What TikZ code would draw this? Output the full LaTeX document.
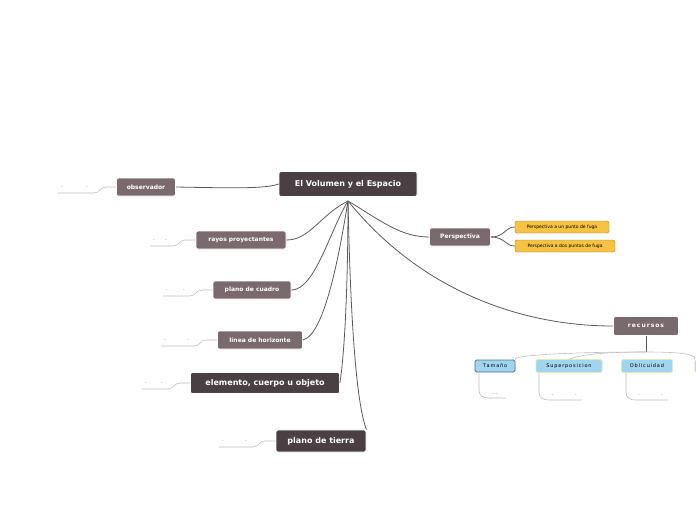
\documentclass[tikz,border=0pt]{standalone}
\usepackage{fontspec}
\setmainfont{DejaVu Sans}
\begin{document}
\begin{tikzpicture}[x=1pt,y=-1pt,
 base/.style={rounded corners=2pt,text=white,font=\bfseries,inner sep=0pt,drop shadow/.style={}},
 dk/.style={base,fill=black!70!red!30!gray,fill={rgb,255:red,74;green,63;blue,66},draw=white,line width=0.8pt,font=\bfseries\fontsize{8}{9}\selectfont},
 md/.style={base,fill={rgb,255:red,123;green,106;blue,109},draw=white,line width=0.8pt,font=\bfseries\fontsize{6}{7}\selectfont},
 yl/.style={rounded corners=1.5pt,fill={rgb,255:red,245;green,194;blue,66},draw={rgb,255:red,170;green,130;blue,40},line width=0.4pt,inner sep=0pt,font=\fontsize{4.5}{5}\selectfont},
 bl/.style={rounded corners=1.5pt,fill={rgb,255:red,159;green,213;blue,238},draw={rgb,255:red,220;green,235;blue,180},line width=0.6pt,inner sep=0pt,font=\fontsize{5}{6}\selectfont},
 con/.style={draw={rgb,255:red,90;green,90;blue,90},line width=0.8pt},
 lite/.style={draw=black!25,line width=0.6pt},
 dot/.style={font=\fontsize{4}{4}\selectfont,inner sep=0pt}]
\useasboundingbox (0,0) rectangle (696,520);
\node[dk,minimum width=138pt,minimum height=25pt] (main) at (348,184) {El Volumen y el Espacio};
\node[md,minimum width=59pt,minimum height=18pt] (obs) at (146,187) {observador};
\node[md,minimum width=90pt,minimum height=18pt] (ray) at (241,240) {rayos proyectantes};
\node[md,minimum width=78pt,minimum height=18pt] (cua) at (252,290) {plano de cuadro};
\node[md,minimum width=85pt,minimum height=18pt] (hor) at (260,340) {línea de horizonte};
\node[dk,minimum width=149pt,minimum height=21pt] (ele) at (265,383) {elemento, cuerpo u objeto};
\node[dk,minimum width=90pt,minimum height=22pt] (tie) at (321,441) {plano de tierra};
\node[md,minimum width=61pt,minimum height=18pt] (per) at (460,237) {Perspectiva};
\node[yl,minimum width=94pt,minimum height=12pt] (p1) at (562,227) {Perspectiva a un punto de fuga};
\node[yl,minimum width=100pt,minimum height=12pt] (p2) at (565,246) {Perspectiva a dos puntos de fuga};
\node[md,minimum width=65pt,minimum height=19pt] (rec) at (646,326) {r\,e\,c\,u\,r\,s\,o\,s};
\node[bl,draw={rgb,255:red,80;green,110;blue,140},line width=0.8pt,minimum width=40pt,minimum height=12pt] (tam) at (495,366) {T\,a\,m\,a\,ñ\,o};
\node[bl,minimum width=66pt,minimum height=13pt] (sup) at (569,366) {S\,u\,p\,e\,r\,p\,o\,s\,i\,c\,i\,o\,n};
\node[bl,minimum width=51pt,minimum height=13pt] (obl) at (647,366) {O\,b\,l\,i\,c\,u\,i\,d\,a\,d};
\node[bl,minimum width=20pt,minimum height=13pt] (x4) at (705,366) {};
% main connectors
\coordinate (hub) at (348,201);
\draw[con] (main.south west) ++(48,0) coordinate (ms);
\draw[con] (obs.east) .. controls (230,188) and (265,189) .. (main.west);
\draw[con] (hub) .. controls (320,215) and (310,240) .. (ray.east);
\draw[con] (hub) .. controls (330,230) and (315,290) .. (cua.east);
\draw[con] (hub) .. controls (340,250) and (325,335) .. (hor.east);
\draw[con] (hub) .. controls (348,280) and (345,350) .. (ele.east);
\draw[con] (hub) .. controls (350,300) and (355,400) .. (tie.north east);
\draw[con] (hub) .. controls (380,220) and (400,237) .. (per.west);
\draw[con] (hub) .. controls (420,290) and (520,326) .. (rec.west);
\draw[con] (per.east) .. controls (505,237) and (505,227) .. (p1.west);
\draw[con] (per.east) .. controls (505,237) and (505,246) .. (p2.west);
\draw[con] (rec.south) -- (646,352);
\draw[lite] (646,352) .. controls (560,352) and (510,356) .. (tam.north east);
\draw[lite] (646,352) .. controls (600,352) and (580,355) .. (sup.north);
\draw[lite] (646,352) .. controls (680,352) and (696,354) .. (x4.north west);
% placeholders
\draw[lite] (obs.west) -- (106,187) .. controls (100,187) and (100,193) .. (94,193) -- (58,193);
\node[dot] at (62,187) {.}; \node[dot] at (87,187) {.};
\draw[lite] (ray.west) -- (185,240) .. controls (179,240) and (179,246) .. (173,246) -- (150,246);
\node[dot] at (154,240) {.}; \node[dot] at (166,240) {.};
\draw[lite] (cua.west) -- (202,290) .. controls (196,290) and (196,296) .. (190,296) -- (163,296);
\node[dot] at (167,290) {.}; \node[dot] at (184,290) {.};
\draw[lite] (hor.west) -- (206,340) .. controls (200,340) and (200,346) .. (194,346) -- (161,346);
\node[dot] at (165,340) {.}; \node[dot] at (188,340) {.};
\draw[lite] (ele.west) -- (180,383) .. controls (174,383) and (174,389) .. (168,389) -- (142,389);
\node[dot] at (146,383) {.}; \node[dot] at (162,383) {.};
\draw[lite] (tie.west) -- (265,441) .. controls (259,441) and (259,447) .. (253,447) -- (219,447);
\node[dot] at (223,441) {.}; \node[dot] at (246,441) {.};
\draw[lite] (479,372) -- (479,390) .. controls (479,396) and (483,398) .. (489,398) -- (506,398);
\node[dot] at (495,394) {.\,.\,.};
\draw[lite] (539,373) -- (539,392) .. controls (539,398) and (543,400) .. (549,400) -- (582,400);
\node[dot] at (553,395) {.}; \node[dot] at (576,395) {.};
\draw[lite] (626,373) -- (626,392) .. controls (626,398) and (630,400) .. (636,400) -- (668,400);
\node[dot] at (639,395) {.}; \node[dot] at (662,395) {.};
\end{tikzpicture}
\end{document}
